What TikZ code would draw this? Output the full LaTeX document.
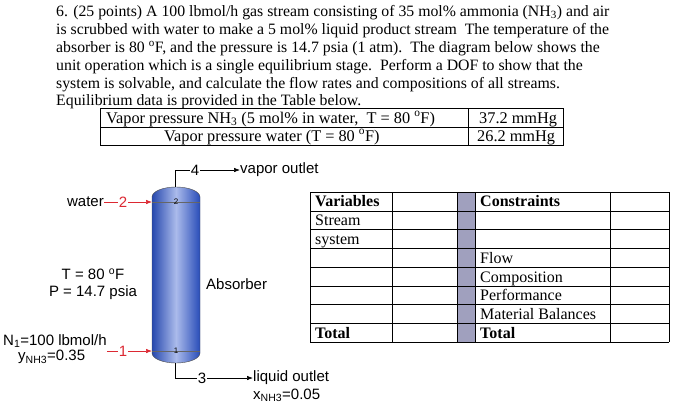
\documentclass[tikz,border=0pt]{standalone}
\usepackage{fontspec}
\setmainfont{Liberation Serif}
\newfontfamily\sans{Liberation Sans}
\usetikzlibrary{arrows.meta}
\definecolor{colblue}{RGB}{45,85,205}
\definecolor{gray1}{RGB}{160,160,190}
\definecolor{redl}{RGB}{220,40,50}
\begin{document}
\begin{tikzpicture}[x=1pt,y=-1pt,
  txt/.style={anchor=base west,inner sep=0pt,font=\fontsize{15.8}{17}\selectfont},
  cell/.style={anchor=base west,inner sep=0pt,font=\fontsize{16}{17}\selectfont},
  bcell/.style={anchor=base west,inner sep=0pt,font=\bfseries\fontsize{16}{17}\selectfont},
  scell/.style={anchor=base west,inner sep=0pt,font=\fontsize{16.3}{17}\selectfont},
  lbl/.style={inner sep=0pt,font=\sans\fontsize{15}{17}\selectfont},
  flow/.style={-{Latex[length=6pt,width=4.5pt]},line width=0.6pt},
  rflow/.style={flow,redl},
  grid/.style={line width=0.6pt}]
\useasboundingbox (0,0) rectangle (674,407);
% problem text
\node[txt] (l1) at (56,16) {6. (25 points) A 100 lbmol/h gas stream consisting of 35 mol\% ammonia (NH\textsubscript{3}) and air};
\node[txt] (l2) at (56,34) {is scrubbed with water to make a 5 mol\% liquid product stream\ \ The temperature of the};
\node[txt] (l3) at (56,52) {absorber is 80 \textsuperscript{o}F, and the pressure is 14.7 psia (1 atm).\ \ The diagram below shows the};
\node[txt] (l4) at (56,70) {unit operation which is a single equilibrium stage.\ \ Perform a DOF to show that the};
\node[txt] (l5) at (56,88) {system is solvable, and calculate the flow rates and compositions of all streams.};
\node[txt] (l6) at (56,105) {Equilibrium data is provided in the Table below.};
% small table
\draw[grid] (100,108) rectangle (563,145);
\draw[grid] (100,127) -- (563,127);
\draw[grid] (468,108) -- (468,145);
\node[scell] (t1) at (106,123) {Vapor pressure NH\textsubscript{3} (5 mol\% in water,\ \ T = 80 \textsuperscript{o}F)};
\node[scell] (t2) at (164,141) {Vapor pressure water (T = 80 \textsuperscript{o}F)};
\node[scell] (t3) at (479,123) {37.2 mmHg};
\node[scell] (t4) at (477,141) {26.2 mmHg};
% column
\shade[left color=colblue!85!black, right color=colblue!90!black, middle color=colblue!40, draw=black!70]
  (152,197) arc[start angle=180,end angle=360,x radius=24,y radius=10] -- (200,353)
  arc[start angle=0,end angle=180,x radius=24,y radius=10] -- cycle;
\draw[black!60,line width=0.4pt] (152,202) -- (200,202) (152,351) -- (200,351);
\node[lbl,font=\sans\fontsize{8}{9}\selectfont] (i2) at (176,202) {2};
\node[lbl,font=\sans\fontsize{8}{9}\selectfont] (i1) at (176,351) {1};
\coordinate (ctop) at (175,187);
\coordinate (cbot) at (175,363);
\coordinate (in2) at (152,202);
\coordinate (in1) at (152,351);
% streams
\node[lbl,anchor=east] (water) at (104,202) {water};
\node[lbl,text=redl,fill=white,inner sep=1pt] (s2) at (123,202) {2};
\draw[redl,line width=0.6pt] (water.east) -- (s2.west);
\draw[rflow] (s2.east) -- (in2);
\node[lbl,fill=white,inner sep=1pt] (s4) at (195,170) {4};
\node[lbl,anchor=west] (vap) at (240,170) {vapor outlet};
\draw[line width=0.6pt] (ctop) -- (175,170) -- (s4.west);
\draw[flow] (s4.east) -- (vap.west);
\node[lbl,text=redl,fill=white,inner sep=1pt] (s1) at (123,351) {1};
\coordinate (st1) at (107,351);
\draw[redl,line width=0.6pt] (st1) -- (s1.west);
\draw[rflow] (s1.east) -- (in1);
\node[lbl,fill=white,inner sep=1pt] (s3) at (202,378) {3};
\node[lbl,anchor=west] (liq) at (253,378) {liquid outlet};
\draw[line width=0.6pt] (cbot) -- (175,378) -- (s3.west);
\draw[flow] (s3.east) -- (liq.west);
\node[lbl,anchor=west] (xn) at (253,395) {x\textsubscript{NH3}=0.05};
\node[lbl,anchor=west] (n1) at (3,341) {N\textsubscript{1}=100 lbmol/h};
\node[lbl,anchor=west] (yn) at (18,357) {y\textsubscript{NH3}=0.35};
\node[lbl,align=center] (tp) at (93,284) {T = 80 \textsuperscript{o}F\\P = 14.7 psia};
\node[lbl,anchor=west] (abs) at (206,284) {Absorber};
% DOF table
\fill[gray1] (457,192) rectangle (475,342);
\foreach \yy in {192,211,229.75,248.5,267.25,286,304.75,323.5,342}
  \draw[grid] (310,\yy) -- (669,\yy);
\foreach \xx in {310,392,457,475,610,669}
  \draw[grid] (\xx,192) -- (\xx,342);
\node[bcell] (v) at (315,206.5) {Variables};
\node[cell] (st) at (315,225) {Stream};
\node[cell] (sy) at (315,244) {system};
\node[bcell] (tv) at (315,338) {Total};
\node[bcell] (c) at (480,206.5) {Constraints};
\node[cell] (fl) at (480,263) {Flow};
\node[cell] (co) at (480,282) {Composition};
\node[cell] (pe) at (480,300.5) {Performance};
\node[cell] (mb) at (480,319) {Material Balances};
\node[bcell] (tc) at (480,338) {Total};
\end{tikzpicture}
\end{document}
